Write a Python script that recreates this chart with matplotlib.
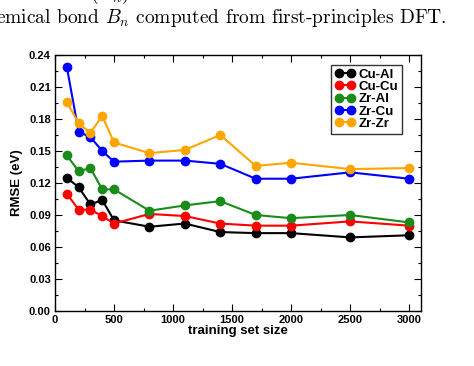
import matplotlib
matplotlib.use("Agg")
import matplotlib.pyplot as plt
from matplotlib.ticker import MultipleLocator

# training set sizes
sizes = [100, 200, 300, 400, 500, 800, 1100, 1400, 1700, 2000, 2500, 3000]

# RMSE per bond type (eV)
cu_al = [0.125, 0.116, 0.100, 0.104, 0.085, 0.079, 0.082, 0.074, 0.073, 0.073, 0.069, 0.071]
cu_cu = [0.110, 0.095, 0.095, 0.089, 0.082, 0.091, 0.089, 0.082, 0.080, 0.080, 0.084, 0.080]
zr_al = [0.146, 0.131, 0.134, 0.114, 0.114, 0.094, 0.099, 0.103, 0.090, 0.087, 0.090, 0.083]
zr_cu = [0.229, 0.168, 0.163, 0.150, 0.140, 0.141, 0.141, 0.138, 0.124, 0.124, 0.130, 0.124]
zr_zr = [0.196, 0.176, 0.167, 0.183, 0.158, 0.148, 0.151, 0.165, 0.136, 0.139, 0.133, 0.134]

labels = ["Cu-Al", "Cu-Cu", "Zr-Al", "Zr-Cu", "Zr-Zr"]
colors = ["black", "#ff0000", "#1a8c1a", "#0000ff", "#ffa500"]
series = [cu_al, cu_cu, zr_al, zr_cu, zr_zr]

plt.rcParams['font.family'] = ['Liberation Sans', 'DejaVu Sans']
plt.rcParams['mathtext.fontset'] = 'cm'

fig = plt.figure(figsize=(4.74, 3.66), dpi=100)
ax = fig.add_axes([55 / 474, 1 - 311 / 366, 366 / 474, 256 / 366])

for vals, lab, col in zip(series, labels, colors):
    ax.plot(sizes, vals, '-o', color=col, lw=1.5, ms=6, label=lab)

ax.set_xlim(0, 3100)
ax.set_ylim(0, 0.24)
ax.xaxis.set_major_locator(MultipleLocator(500))
ax.xaxis.set_minor_locator(MultipleLocator(250))
ax.yaxis.set_major_locator(MultipleLocator(0.03))
ax.yaxis.set_minor_locator(MultipleLocator(0.015))
ax.yaxis.set_major_formatter(plt.FuncFormatter(lambda v, p: f"{v:.2f}"))
ax.tick_params(which='both', direction='in', top=True, right=True, labelsize=8, width=0.8)
ax.tick_params(which='major', length=5, pad=3)
ax.tick_params(which='minor', length=2.5)
for lbl in ax.get_xticklabels() + ax.get_yticklabels():
    lbl.set_fontweight('bold')
for s in ax.spines.values():
    s.set_linewidth(1.0)

ax.set_xlabel("training set size", fontsize=9.5, fontweight='bold', labelpad=0)
ax.set_ylabel("RMSE (eV)", fontsize=9.5, fontweight='bold', labelpad=4)

leg = ax.legend(loc='upper right', bbox_to_anchor=(0.967, 0.988),
                prop={'weight': 'bold', 'size': 9.5}, numpoints=2, handlelength=1.5,
                handletextpad=0.3, labelspacing=0.0, borderpad=0.3,
                fancybox=False, framealpha=1, edgecolor='#333333')
leg.get_frame().set_linewidth(1.0)

# caption fragments above the plot (cropped page)
fig.text(90 / 474, 1 + 1.5 / 366, r"$(B_n)$", fontsize=14.0, family='cmr10', va='baseline')
fig.text(-0.008, 1 - 22.7 / 366, r"emical bond $B_n$ computed from first-principles DFT.",
         fontsize=14.0, family='cmr10', va='baseline')

fig.savefig("out.png", dpi=100)
